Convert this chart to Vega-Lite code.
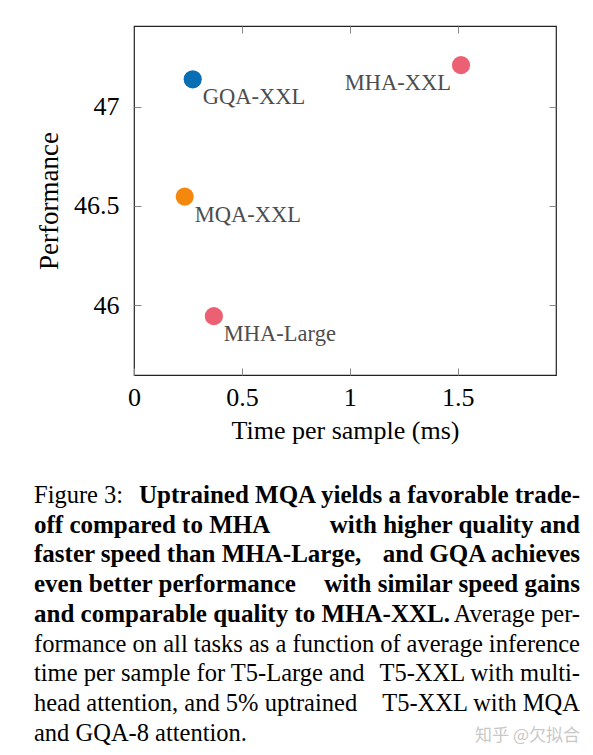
{
  "$schema": "https://vega.github.io/schema/vega-lite/v6.json",
  "padding": {"left": 34, "top": 24, "right": 0, "bottom": 0},
  "background": "white",
  "spacing": 29,
  "config": {
    "view": {"stroke": null},
    "font": "Liberation Serif",
    "text": {"font": "Liberation Serif"}
  },
  "datasets": {
    "points": [
      {"model": "GQA-XXL", "family": "GQA", "time": 0.272, "perf": 47.137, "anchor": "L"},
      {"model": "MHA-XXL", "family": "MHA", "time": 1.515, "perf": 47.208, "anchor": "R"},
      {"model": "MQA-XXL", "family": "MQA", "time": 0.235, "perf": 46.547, "anchor": "L"},
      {"model": "MHA-Large", "family": "MHA", "time": 0.370, "perf": 45.946, "anchor": "L"}
    ],
    "caption": [
      {"line": 1, "pos": 0, "w": "n", "text": "Figure 3:"},
      {"line": 1, "pos": 1, "w": "b", "text": "Uptrained MQA yields a favorable trade-"},
      {"line": 2, "pos": 0, "w": "b", "text": "off compared to MHA"},
      {"line": 2, "pos": 1, "w": "b", "text": "with higher quality and"},
      {"line": 3, "pos": 0, "w": "b", "text": "faster speed than MHA-Large,"},
      {"line": 3, "pos": 1, "w": "b", "text": "and GQA achieves"},
      {"line": 4, "pos": 0, "w": "b", "text": "even better performance"},
      {"line": 4, "pos": 1, "w": "b", "text": "with similar speed gains"},
      {"line": 5, "pos": 0, "w": "b", "text": "and comparable quality to MHA-XXL."},
      {"line": 5, "pos": 1, "w": "n", "text": "Average per-"},
      {"line": 6, "pos": 0, "w": "n", "text": "formance on all tasks as a function of"},
      {"line": 6, "pos": 1, "w": "n", "text": "average inference"},
      {"line": 7, "pos": 0, "w": "n", "text": "time per sample for T5-Large and"},
      {"line": 7, "pos": 1, "w": "n", "text": "T5-XXL with multi-"},
      {"line": 8, "pos": 0, "w": "n", "text": "head attention, and 5% uptrained"},
      {"line": 8, "pos": 1, "w": "n", "text": "T5-XXL with MQA"},
      {"line": 9, "pos": 0, "w": "n", "text": "and GQA-8 attention."},
      {"line": 9, "pos": 1, "w": "wm", "text": "知乎 @欠拟合"}
    ]
  },
  "vconcat": [
    {
      "width": 422,
      "height": 349,
      "view": {"stroke": "#222222", "strokeWidth": 1.2},
      "data": {"name": "points"},
      "layer": [
        {
          "mark": {"type": "circle", "size": 330, "opacity": 1},
          "encoding": {
            "x": {
              "field": "time", "type": "quantitative",
              "scale": {"domain": [0, 1.955], "nice": false, "zero": false},
              "axis": {
                "orient": "bottom", "values": [0, 0.5, 1, 1.5], "format": "~g",
                "grid": false, "domain": false, "tickSize": -7, "tickColor": "#888888",
                "labelFont": "Liberation Serif", "labelFontSize": 26, "labelColor": "#000000",
                "labelFlush": false, "labelPadding": 16,
                "title": "Time per sample (ms)", "titleFont": "Liberation Serif",
                "titleFontSize": 26, "titleFontWeight": "normal", "titleColor": "#000000",
                "titlePadding": 7
              }
            },
            "y": {
              "field": "perf", "type": "quantitative",
              "scale": {"domain": [45.65, 47.405], "nice": false, "zero": false},
              "axis": {
                "orient": "left", "values": [46, 46.5, 47], "format": "~g",
                "grid": false, "domain": false, "tickSize": -7, "tickColor": "#888888",
                "labelFont": "Liberation Serif", "labelFontSize": 26, "labelColor": "#000000",
                "labelFlush": false, "labelPadding": 22,
                "title": "Performance", "titleFont": "Liberation Serif",
                "titleFontSize": 27, "titleFontWeight": "normal", "titleColor": "#000000",
                "titlePadding": 10
              }
            },
            "color": {
              "field": "family", "type": "nominal",
              "scale": {"domain": ["GQA", "MQA", "MHA"], "range": ["#0A6EB4", "#F4880F", "#EC6073"]},
              "legend": null
            }
          }
        },
        {
          "transform": [{"filter": "datum.anchor == 'L'"}],
          "mark": {"type": "text", "align": "left", "baseline": "alphabetic", "dx": 10, "dy": 25, "fontSize": 22.5, "color": "#4d4d4d", "font": "Liberation Serif"},
          "encoding": {
            "x": {
              "field": "time", "type": "quantitative",
              "axis": {"orient": "top", "values": [0.5, 1, 1.5], "labels": false, "title": null, "grid": false, "domain": false, "tickSize": -7, "tickColor": "#888888"}
            },
            "y": {
              "field": "perf", "type": "quantitative",
              "axis": {"orient": "right", "values": [46, 46.5, 47], "labels": false, "title": null, "grid": false, "domain": false, "tickSize": -7, "tickColor": "#888888"}
            },
            "text": {"field": "model"}
          }
        },
        {
          "transform": [{"filter": "datum.anchor == 'R'"}],
          "mark": {"type": "text", "align": "right", "baseline": "alphabetic", "dx": -10, "dy": 25, "fontSize": 22.5, "color": "#4d4d4d", "font": "Liberation Serif"},
          "encoding": {
            "x": {"field": "time", "type": "quantitative", "axis": null},
            "y": {"field": "perf", "type": "quantitative", "axis": null},
            "text": {"field": "model"}
          }
        }
      ]
    },
    {
      "width": 446,
      "height": 277,
      "data": {"name": "caption"},
      "encoding": {
        "x": {"field": "pos", "type": "quantitative", "scale": {"domain": [0.18315, 1], "nice": false, "zero": false}, "axis": null},
        "y": {"field": "line", "type": "quantitative", "scale": {"domain": [0, 9.3], "nice": false, "reverse": true}, "axis": null},
        "text": {"field": "text"}
      },
      "layer": [
        {
          "transform": [{"filter": "datum.w == 'n' && datum.pos == 0"}],
          "mark": {"type": "text", "align": "left", "baseline": "alphabetic", "fontSize": 24.5, "color": "#000000", "font": "Liberation Serif"}
        },
        {
          "transform": [{"filter": "datum.w == 'n' && datum.pos == 1"}],
          "mark": {"type": "text", "align": "right", "baseline": "alphabetic", "fontSize": 24.5, "color": "#000000", "font": "Liberation Serif"}
        },
        {
          "transform": [{"filter": "datum.w == 'b' && datum.pos == 0"}],
          "mark": {"type": "text", "align": "left", "baseline": "alphabetic", "fontSize": 25, "fontWeight": "bold", "color": "#000000", "font": "Liberation Serif"}
        },
        {
          "transform": [{"filter": "datum.w == 'b' && datum.pos == 1"}],
          "mark": {"type": "text", "align": "right", "baseline": "alphabetic", "fontSize": 25, "fontWeight": "bold", "color": "#000000", "font": "Liberation Serif"}
        },
        {
          "transform": [{"filter": "datum.w == 'wm'"}],
          "mark": {"type": "text", "align": "right", "baseline": "alphabetic", "fontSize": 17, "color": "#c8c8c8", "font": "Noto Sans CJK SC"}
        }
      ]
    }
  ]
}
